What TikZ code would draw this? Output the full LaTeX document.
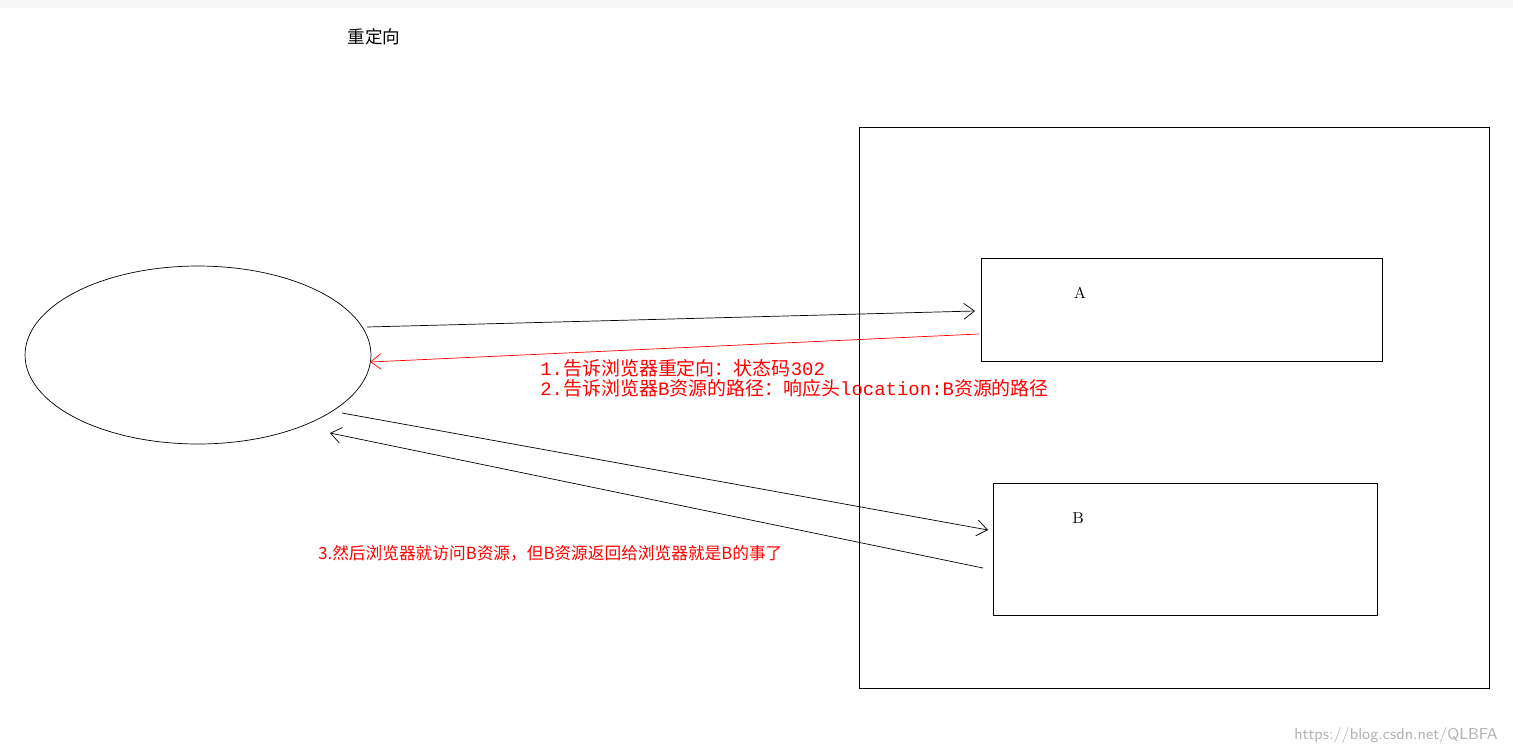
\documentclass[tikz,border=0pt]{standalone}
\usepackage{fontspec}
\newfontfamily\cjk{Noto Sans CJK SC}
\newfontfamily\mono{Liberation Mono}
\usetikzlibrary{arrows.meta,shapes.geometric}

\begin{document}
\begin{tikzpicture}[x=0.02cm,y=-0.02cm,
  box/.style={draw,thin},
  msg/.style={-{Straight Barb[length=6pt,width=9pt]},thin},
  note/.style={anchor=west,red,font=\cjk\fontsize{9.5}{11}\selectfont,inner sep=0pt}]
  \useasboundingbox[fill=white](0,0) rectangle (1513,754);
  \fill[gray!6](0,0) rectangle (1513,8);

  % browser and server
  \node[draw,thin,ellipse,minimum width=6.92cm,minimum height=3.56cm] (browser) at (198,355) {};
  \draw[box](859,127) rectangle (1489,688);
  \draw[box](981,258) rectangle (1382,361);
  \draw[box](993,483) rectangle (1377,615);
  \node[font=\small] (resA) at (1080,293) {A};
  \node[font=\small] (resB) at (1078,518) {B};
  \node[font=\cjk\fontsize{10}{12}\selectfont] (title) at (374,37) {重定向};

  % ends of the connectors
  \coordinate (a1) at (367,327); \coordinate (a2) at (975,311);
  \coordinate (r1) at (979,334); \coordinate (r2) at (370,362);
  \coordinate (b1) at (342,413); \coordinate (b2) at (988,530);
  \coordinate (c1) at (983,568); \coordinate (c2) at (330,433);
  \draw[msg](a1) -- (a2);
  \draw[msg,red](r1) -- (r2);
  \draw[msg](b1) -- (b2);
  \draw[msg](c1) -- (c2);

  \node[note,font=\cjk\fontsize{10.8}{12}\selectfont] (step1) at (540,368) {{\mono 1.}告诉浏览器重定向：状态码{\mono 302}};
  \node[note,font=\cjk\fontsize{10.8}{12}\selectfont] (step2) at (540,388) {{\mono 2.}告诉浏览器{\mono B}资源的路径：响应头{\mono location:B}资源的路径};
  \node[note] (step3) at (318,553) {3.然后浏览器就访问B资源，但B资源返回给浏览器就是B的事了};
  \node[anchor=east,gray!60,font=\sffamily\small] (mark) at (1504,736) {https://blog.csdn.net/QLBFA};
\end{tikzpicture}
\end{document}
